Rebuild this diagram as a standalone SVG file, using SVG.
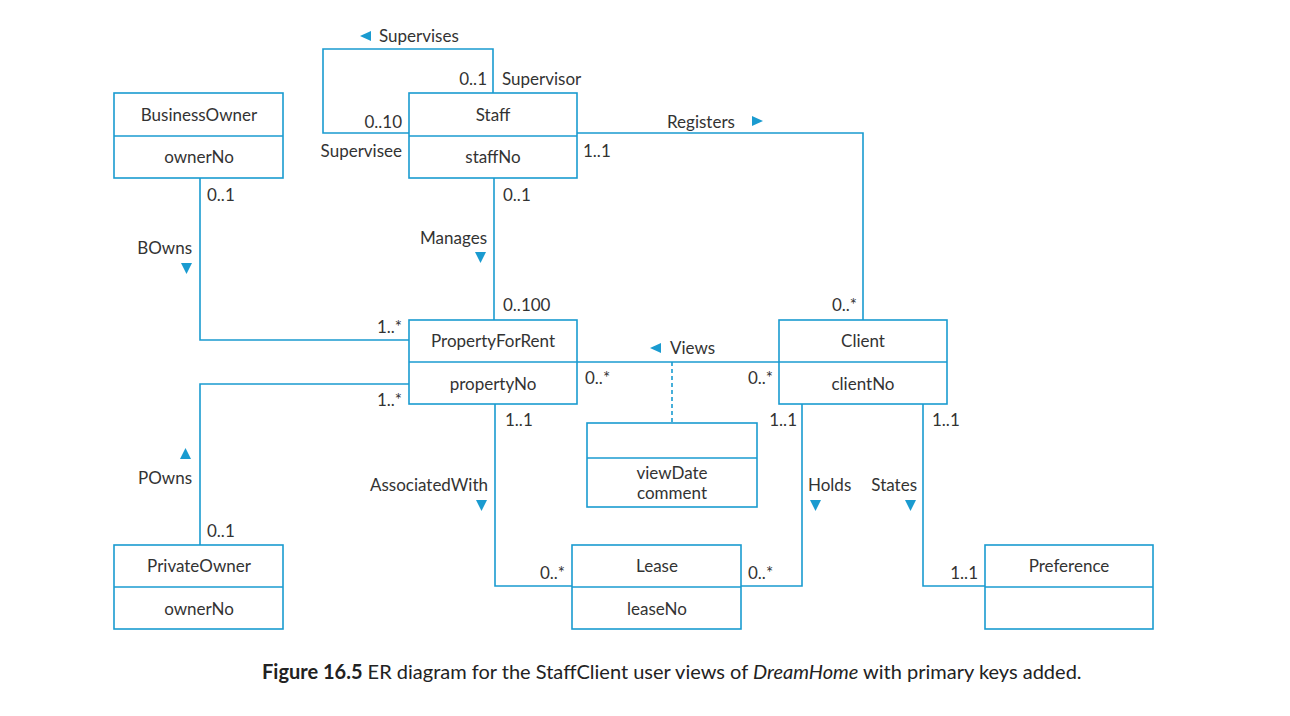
<svg xmlns="http://www.w3.org/2000/svg" width="1290" height="716" viewBox="0 0 1290 716">
<style>
.b{fill:#fff;stroke:#1a9bd0;stroke-width:1.6}
.l{fill:none;stroke:#1a9bd0;stroke-width:1.6}
.d{fill:none;stroke:#1a9bd0;stroke-width:1.6;stroke-dasharray:4,3}
text{font-family:Lato,"Open Sans",sans-serif;font-size:17px;fill:#333}
.c{text-anchor:middle}
.r{text-anchor:end}
.t{fill:#1a9bd0;stroke:none}
.cap{font-size:20px;fill:#222}
</style>
<rect width="1290" height="716" fill="#fff"/>
<g id="connectors">
<polyline class="l" points="493,93 493,49 323,49 323,133 409,133"/>
<polyline class="l" points="577,133 863,133 863,320"/>
<polyline class="l" points="200,178 200,340 409,340"/>
<polyline class="l" points="494,178 494,320"/>
<polyline class="l" points="409,384 200,384 200,545"/>
<polyline class="l" points="577,362 779,362"/>
<polyline class="d" points="672,362 672,423"/>
<polyline class="l" points="495,404 495,586 572,586"/>
<polyline class="l" points="802,404 802,586 741,586"/>
<polyline class="l" points="923,404 923,586 985,586"/>
<path class="t" d="M360,36 l11,-5 v10z"/>
<path class="t" d="M763,121 l-11,-5 v10z"/>
<path class="t" d="M181,263 h11 l-5.5,11z"/>
<path class="t" d="M475,252 h11 l-5.5,11z"/>
<path class="t" d="M180,459 h11 l-5.5,-11z"/>
<path class="t" d="M650,348 l11,-5 v10z"/>
<path class="t" d="M476,500 h11 l-5.5,11z"/>
<path class="t" d="M810,500 h11 l-5.5,11z"/>
<path class="t" d="M905,500 h11 l-5.5,11z"/>
<text x="379" y="42">Supervises</text>
<text x="487" y="85" class="r">0..1</text>
<text x="502" y="85">Supervisor</text>
<text x="402" y="128" class="r">0..10</text>
<text x="402" y="157" class="r">Supervisee</text>
<text x="667" y="128">Registers</text>
<text x="583" y="157">1..1</text>
<text x="857" y="311" class="r">0..*</text>
<text x="207" y="201">0..1</text>
<text x="192" y="254" class="r">BOwns</text>
<text x="402" y="333" class="r">1..*</text>
<text x="503" y="201">0..1</text>
<text x="487" y="244" class="r">Manages</text>
<text x="503" y="311">0..100</text>
<text x="402" y="406" class="r">1..*</text>
<text x="192" y="484" class="r">POwns</text>
<text x="207" y="537">0..1</text>
<text x="670" y="354">Views</text>
<text x="585" y="384">0..*</text>
<text x="773" y="384" class="r">0..*</text>
<text x="505" y="426">1..1</text>
<text x="488" y="491" class="r">AssociatedWith</text>
<text x="565" y="579" class="r">0..*</text>
<text x="797" y="426" class="r">1..1</text>
<text x="808" y="491">Holds</text>
<text x="917" y="491" class="r">States</text>
<text x="748" y="579">0..*</text>
<text x="932" y="426">1..1</text>
<text x="978" y="579" class="r">1..1</text>
</g>
<g id="BusinessOwner"><rect class="b" x="114" y="93" width="169" height="85"/><line class="l" x1="114" y1="136" x2="283" y2="136"/><text x="199" y="121" class="c">BusinessOwner</text><text x="199" y="163" class="c">ownerNo</text></g>
<g id="Staff"><rect class="b" x="409" y="93" width="168" height="85"/><line class="l" x1="409" y1="136" x2="577" y2="136"/><text x="493" y="121" class="c">Staff</text><text x="493" y="163" class="c">staffNo</text></g>
<g id="PropertyForRent"><rect class="b" x="409" y="320" width="168" height="84"/><line class="l" x1="409" y1="362" x2="577" y2="362"/><text x="493" y="347" class="c">PropertyForRent</text><text x="493" y="390" class="c">propertyNo</text></g>
<g id="Client"><rect class="b" x="779" y="320" width="168" height="84"/><line class="l" x1="779" y1="362" x2="947" y2="362"/><text x="863" y="347" class="c">Client</text><text x="863" y="390" class="c">clientNo</text></g>
<g id="ViewsAttr"><rect class="b" x="587" y="423" width="170" height="84"/><line class="l" x1="587" y1="458" x2="757" y2="458"/><text x="672" y="479" class="c">viewDate</text><text x="672" y="499" class="c">comment</text></g>
<g id="PrivateOwner"><rect class="b" x="114" y="545" width="169" height="84"/><line class="l" x1="114" y1="587" x2="283" y2="587"/><text x="199" y="572" class="c">PrivateOwner</text><text x="199" y="615" class="c">ownerNo</text></g>
<g id="Lease"><rect class="b" x="572" y="545" width="169" height="84"/><line class="l" x1="572" y1="587" x2="741" y2="587"/><text x="657" y="572" class="c">Lease</text><text x="657" y="615" class="c">leaseNo</text></g>
<g id="Preference"><rect class="b" x="985" y="545" width="168" height="84"/><line class="l" x1="985" y1="587" x2="1153" y2="587"/><text x="1069" y="572" class="c">Preference</text></g>
<text x="262" y="679" class="cap"><tspan font-weight="bold">Figure 16.5</tspan>  ER diagram for the StaffClient user views of <tspan font-style="italic">DreamHome</tspan> with primary keys added.</text>
</svg>
